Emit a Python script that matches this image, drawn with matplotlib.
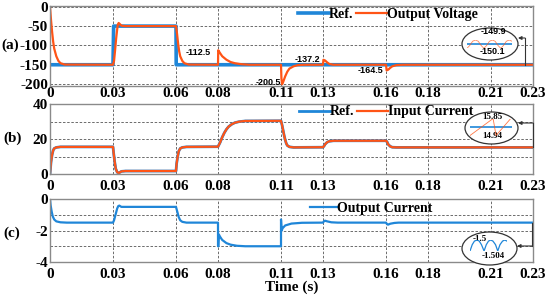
import matplotlib
matplotlib.use("Agg")
import matplotlib.pyplot as plt
from matplotlib.patches import Ellipse

# ---------------- data ----------------
xticks = [0, 0.03, 0.06, 0.08, 0.11, 0.13, 0.16, 0.18, 0.21, 0.23]
xticklabels = ['0', '0.03', '0.06', '0.08', '0.11', '0.13', '0.16', '0.18', '0.21', '0.23']

ref_v_t = [0, 0.03, 0.0303, 0.06, 0.0601, 0.23]
ref_v = [-150, -150, -50, -50, -150, -150]

out_v_t = [0, 0.0005, 0.001, 0.0015, 0.002, 0.003, 0.004, 0.005, 0.007, 0.03,
           0.0305, 0.031, 0.0315, 0.032, 0.0323, 0.0327, 0.0333, 0.034, 0.035, 0.036, 0.06,
           0.0605, 0.061, 0.0615, 0.062, 0.063, 0.064, 0.066, 0.08,
           0.0801, 0.081, 0.082, 0.084, 0.086, 0.088, 0.091, 0.095, 0.11,
           0.1102, 0.1105, 0.111, 0.112, 0.113, 0.114, 0.116, 0.118, 0.121, 0.13,
           0.1302, 0.131, 0.132, 0.133, 0.135, 0.16,
           0.1603, 0.161, 0.162, 0.163, 0.165, 0.168, 0.23]
out_v = [0, -35, -65, -90, -108, -128, -140, -146, -149.5, -150,
         -140, -112, -82, -58, -46, -42, -45, -49, -49.5, -50, -50,
         -70, -95, -115, -128, -140, -146, -149.5, -150,
         -112.5, -120, -128, -137, -143, -146, -148.5, -150, -150,
         -185, -200.5, -195, -180, -168, -160, -154, -151, -150, -150,
         -137.2, -139, -144, -148, -150, -150,
         -164.5, -163, -158, -154, -151, -150, -150]

in_i_t = [0, 0.0005, 0.001, 0.0015, 0.002, 0.003, 0.005, 0.03,
          0.0303, 0.0308, 0.0313, 0.032, 0.0328, 0.034, 0.036, 0.06,
          0.0603, 0.0608, 0.0613, 0.062, 0.063, 0.065, 0.08,
          0.081, 0.082, 0.083, 0.084, 0.085, 0.0865, 0.088, 0.09, 0.093, 0.11,
          0.1105, 0.111, 0.1115, 0.112, 0.1125, 0.113, 0.114, 0.116, 0.13,
          0.1305, 0.131, 0.132, 0.133, 0.135, 0.16,
          0.1605, 0.161, 0.162, 0.163, 0.165, 0.23]
in_i = [0, 7, 11, 13.5, 14.6, 15.2, 15.5, 15.5,
        12, 7, 3, 1, 0.6, 1.5, 1.7, 1.7,
        6, 10, 13, 14.6, 15.2, 15.5, 15.6,
        18, 21, 23.5, 25.5, 27, 28.4, 29.3, 29.9, 30.3, 30.4,
        28, 25, 22, 19.5, 17.5, 16.3, 15.5, 15.2, 15.3,
        16, 17, 18.2, 18.7, 19, 19,
        18.4, 17, 15.8, 15.3, 15.2, 15.2]

out_i_t = [0, 0.0003, 0.0008, 0.0013, 0.002, 0.003, 0.005, 0.008, 0.03,
           0.0305, 0.031, 0.0315, 0.032, 0.0325, 0.033, 0.034, 0.06,
           0.0603, 0.0608, 0.0613, 0.062, 0.063, 0.065, 0.08,
           0.08001, 0.0802, 0.0804, 0.081, 0.082, 0.084, 0.086, 0.089, 0.093, 0.11,
           0.11001, 0.1103, 0.1108, 0.112, 0.115, 0.12, 0.13,
           0.1305, 0.131, 0.132, 0.134, 0.137, 0.16,
           0.1605, 0.161, 0.162, 0.164, 0.166, 0.23]
out_i = [0, -0.4, -0.8, -1.1, -1.3, -1.42, -1.48, -1.5, -1.5,
         -1.35, -1.1, -0.85, -0.6, -0.45, -0.42, -0.5, -0.5,
         -0.65, -0.9, -1.15, -1.35, -1.45, -1.5, -1.5,
         -3.0, -3.0, -2.25, -2.4, -2.6, -2.8, -2.9, -2.97, -3.0, -3.0,
         -1.3, -2.0, -1.85, -1.68, -1.56, -1.51, -1.5,
         -1.4, -1.38, -1.42, -1.48, -1.5, -1.5,
         -1.6, -1.63, -1.57, -1.52, -1.5, -1.5]

# zoomed ripple details (insets)
rip_a_x = [0, 0.0625, 0.125, 0.1875, 0.25, 0.3125, 0.375, 0.4375, 0.5, 0.5625, 0.625, 0.6875, 0.75, 0.8125, 0.875, 0.9375, 1.0]
rip_a_v = [-150.1, -150.03, -149.93, -149.9, -149.93, -150.03, -150.1, -150.03, -149.93, -149.9, -149.93, -150.03, -150.1, -150.03, -149.93, -149.9, -149.93]
rip_a_ref = [-150, -150]
rip_b_x = [0.0, 0.55, 0.62, 0.97]
rip_b_v = [14.94, 15.85, 14.94, 15.85]
rip_b_ref = [15.4, 15.4]
rip_c_x = [0, 0.06, 0.12, 0.19, 0.25, 0.31, 0.38, 0.44, 0.5, 0.56, 0.62, 0.69, 0.75, 0.81, 0.88, 0.94, 1.0]
rip_c_v = [-1.504, -1.5017, -1.5004, -1.5, -1.5004, -1.5017, -1.504, -1.5017, -1.5004, -1.5, -1.5004, -1.5017, -1.504, -1.5017, -1.5004, -1.5, -1.5004]

BLUE = '#1f86d8'
ORANGE = '#ff5416'
GRIDC = '#555555'
SERIF = ['Liberation Serif', 'DejaVu Serif']
SANS = ['Liberation Sans', 'DejaVu Sans']

plt.rcParams['font.family'] = SERIF
plt.rcParams['font.weight'] = 'bold'

fig = plt.figure(figsize=(5.5, 2.97), dpi=100)
W, H = 550.0, 297.0

def axpos(l, r, t, b):
    return [l / W, 1 - b / H, (r - l) / W, (b - t) / H]

axa = fig.add_axes(axpos(50, 533, 6, 86))
axb = fig.add_axes(axpos(50, 533, 104, 174))
axc = fig.add_axes(axpos(50, 533, 199, 262))

for ax, xpad in ((axa, 1.0), (axb, 4.0), (axc, 4.0)):
    ax.set_xlim(0, 0.23)
    ax.set_xticks(xticks)
    ax.set_xticklabels(xticklabels)
    ax.tick_params(length=0, labelsize=11)
    ax.tick_params(axis='x', pad=xpad)
    ax.tick_params(axis='y', pad=1.5)
    ax.grid(True, linestyle=(0, (3, 2)), color=GRIDC, linewidth=0.6)
    for s in ax.spines.values():
        s.set_color('#8a8a8a')
        s.set_linewidth(1.0)

# (a)
axa.plot(ref_v_t, ref_v, color=BLUE, lw=2.6, label='Ref.')
axa.plot(out_v_t, out_v, color=ORANGE, lw=1.6, label='Output Voltage')
axa.set_ylim(-205, 2)
axa.set_yticks([0, -50, -100, -150, -200])
axa.set_yticklabels(['0', '-50', '-100', '-150', '-200'])
axa.legend(loc='center', bbox_to_anchor=(0.70, 0.89), ncol=2, frameon=False,
           prop=dict(family=SERIF, weight='bold', size=10), handlelength=2.2,
           handletextpad=0.0, columnspacing=0.2, borderpad=0)
for txt, x, y in [('-112.5', 0.0705, -118), ('-200.5', 0.1038, -196),
                  ('-137.2', 0.1224, -137), ('-164.5', 0.1524, -165)]:
    axa.text(x, y, txt, ha='center', va='center', fontsize=6.5, family=SANS, weight='bold')

# (b)
axb.plot(in_i_t, in_i, color=BLUE, lw=2.0, label='Ref.')
axb.plot(in_i_t, in_i, color=ORANGE, lw=1.6, label='Input Current')
axb.set_ylim(0, 40)
axb.set_yticks([0, 10, 20, 30, 40])
axb.set_yticklabels(['0', '', '20', '', '40'])
axb.legend(loc='center', bbox_to_anchor=(0.696, 0.886), ncol=2, frameon=False,
           prop=dict(family=SERIF, weight='bold', size=10), handlelength=2.2,
           handletextpad=0.0, columnspacing=0.2, borderpad=0)

# (c)
axc.plot(out_i_t, out_i, color=BLUE, lw=1.6, label='Output Current')
axc.set_ylim(-4, 0)
axc.set_yticks([-4, -3, -2, -1, 0])
axc.set_yticklabels(['-4', '', '-2', '', '0'])
axc.legend(loc='center', bbox_to_anchor=(0.665, 0.857), ncol=1, frameon=False,
           prop=dict(family=SERIF, weight='bold', size=10), handlelength=2.0,
           handletextpad=0.0, borderpad=0)
axc.set_xlabel('Time (s)', fontsize=11, fontweight='bold', labelpad=0)

for ax in (axa, axb, axc):
    for lab in ax.get_xticklabels() + ax.get_yticklabels():
        lab.set_fontweight('bold')

# panel labels
fig.text(1 / W, 1 - 45 / H, '(a)', fontsize=11, weight='bold', va='center', ha='left')
fig.text(3 / W, 1 - 138 / H, '(b)', fontsize=11, weight='bold', va='center', ha='left')
fig.text(3 / W, 1 - 233 / H, '(c)', fontsize=11, weight='bold', va='center', ha='left')

# insets: ellipse, texts, arrow
def px(ax, x, y):
    bb = ax.get_position()
    return ((x / W - bb.x0) / bb.width, ((1 - y / H) - bb.y0) / bb.height)

def inset(ax, cx, cy, w, h, texts, arrow_x, y_trace, y_arrow, x_end):
    c = px(ax, cx, cy)
    bb = ax.get_position()
    e = Ellipse(c, w / W / bb.width, h / H / bb.height, transform=ax.transAxes,
                facecolor='white', edgecolor='#333333', lw=0.9, clip_on=False, zorder=5)
    ax.add_patch(e)
    for t, x, y, fam in texts:
        p = px(ax, x, y)
        ax.text(p[0], p[1], t, transform=ax.transAxes, ha='center', va='center',
                fontsize=6.5, family=fam, weight='bold', zorder=7, clip_on=False)
    p0 = px(ax, arrow_x, y_trace)
    p1 = px(ax, arrow_x, y_arrow)
    p2 = px(ax, x_end, y_arrow)
    ax.plot([p0[0], p1[0]], [p0[1], p1[1]], transform=ax.transAxes, color='#333333',
            lw=0.8, clip_on=False, zorder=6)
    ax.annotate('', xy=p2, xytext=p1, xycoords='axes fraction', textcoords='axes fraction',
                arrowprops=dict(arrowstyle='-|>', color='#333333', lw=0.8,
                                mutation_scale=5, shrinkA=0, shrinkB=0), zorder=6)

inset(axa, 490, 44, 56, 32, [('-149.9', 493, 32, SANS), ('-150.1', 492, 51, SANS)],
      525, 65, 38, 518)
inset(axb, 491.5, 128, 53, 32, [('15.85', 492, 117, SERIF), ('14.94', 492, 136, SERIF)],
      533, 147, 123, 518)
inset(axc, 489.5, 248.5, 55, 33, [('-1.5', 480, 239, SERIF), ('-1.504', 493, 255.5, SERIF)],
      532, 222.6, 246, 517)

def ripple_ax(l, r, t, b):
    a = fig.add_axes(axpos(l, r, t, b))
    a.set_axis_off()
    a.patch.set_alpha(0)
    a.set_zorder(10)
    return a

ia = ripple_ax(467, 512, 40, 48.3)
ia.plot([0, 1], rip_a_ref, color=BLUE, lw=1.2)
ia.plot(rip_a_x, rip_a_v, color=ORANGE, lw=0.6, alpha=0.7)
ia.set_xlim(0, 1); ia.set_ylim(-150.1, -149.9)

ib = ripple_ax(470, 512, 118.5, 135.5)
ib.plot([0, 1], rip_b_ref, color=BLUE, lw=1.2)
ib.plot(rip_b_x, rip_b_v, color=ORANGE, lw=0.6, alpha=0.8)
ib.set_xlim(0, 1); ib.set_ylim(14.94, 15.85)

ic = ripple_ax(470, 507, 240, 251)
ic.plot(rip_c_x, rip_c_v, color=BLUE, lw=0.9)
ic.set_xlim(0, 1); ic.set_ylim(-1.504, -1.5)

fig.savefig('out.png', dpi=100)
